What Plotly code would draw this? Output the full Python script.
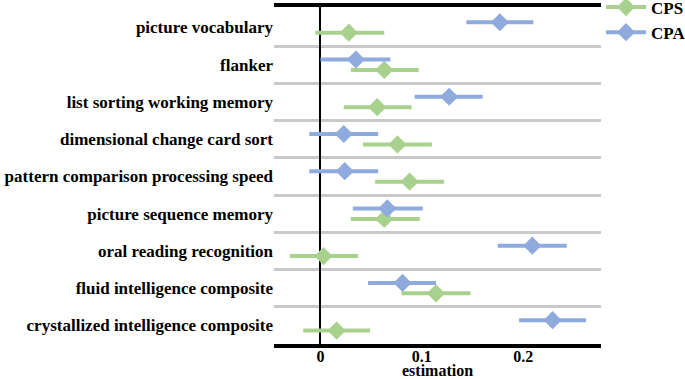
import plotly.graph_objects as go

categories = [
    "picture vocabulary",
    "flanker",
    "list sorting working memory",
    "dimensional change card sort",
    "pattern comparison processing speed",
    "picture sequence memory",
    "oral reading recognition",
    "fluid intelligence composite",
    "crystallized intelligence composite",
]

cps_est = [0.028, 0.063, 0.056, 0.076, 0.088, 0.063, 0.003, 0.114, 0.016]
cps_low = [-0.005, 0.030, 0.023, 0.042, 0.054, 0.030, -0.030, 0.080, -0.017]
cps_high = [0.063, 0.097, 0.090, 0.110, 0.122, 0.098, 0.037, 0.148, 0.049]

cpa_est = [0.177, 0.035, 0.127, 0.023, 0.024, 0.066, 0.209, 0.081, 0.229]
cpa_low = [0.144, 0.000, 0.093, -0.011, -0.011, 0.032, 0.175, 0.047, 0.196]
cpa_high = [0.210, 0.069, 0.160, 0.057, 0.057, 0.101, 0.243, 0.114, 0.262]

x_ticks = [0, 0.1, 0.2]
x_ticktext = ["0", "0.1", "0.2"]
x_title = "estimation"

GREEN = "#A9D18E"
BLUE = "#8FAADC"
FONT = "Liberation Serif"


def interleave(vals):
    out = []
    for v in vals:
        out += [v, None]
    return out


def series(name, est, low, high, offset, color):
    ys = [i + offset for i in range(len(est))]
    plus = [h - e for e, h in zip(est, high)]
    minus = [e - l for e, l in zip(est, low)]
    return go.Scatter(
        name=name,
        x=interleave(est),
        y=interleave(ys),
        mode="lines+markers",
        line=dict(color=color, width=4),
        marker=dict(symbol="diamond", size=14, color=color, line=dict(width=0)),
        error_x=dict(type="data", symmetric=False, array=interleave(plus),
                     arrayminus=interleave(minus), color=color, thickness=4, width=0),
        connectgaps=False,
    )


fig = go.Figure()
fig.add_trace(series("CPS", cps_est, cps_low, cps_high, 0.14, GREEN))
fig.add_trace(series("CPA", cpa_est, cpa_low, cpa_high, -0.14, BLUE))

n = len(categories)
fig.update_layout(
    width=685, height=379,
    margin=dict(l=274, r=84, t=7, b=35, autoexpand=False),
    paper_bgcolor="white", plot_bgcolor="white",
    font=dict(family=FONT, size=17, color="black", weight="bold"),
    showlegend=True,
    legend=dict(x=1.0, xanchor="left", y=1.052, yanchor="top",
                font=dict(family=FONT, size=17, color="black", weight="bold"),
                itemwidth=40, tracegroupgap=0, bgcolor="rgba(0,0,0,0)"),
    xaxis=dict(
        range=[-0.0458, 0.2768], automargin=False,
        tickmode="array", tickvals=x_ticks, ticktext=x_ticktext,
        showgrid=False, ticks="", ticklabelstandoff=-5,
        zeroline=True, zerolinecolor="black", zerolinewidth=2,
        showline=True, linecolor="black", linewidth=4, mirror=True,
        tickfont=dict(family=FONT, size=16, color="black", weight="bold"),
    ),
    yaxis=dict(
        range=[n - 0.5, -0.55], automargin=False,
        tickmode="array", tickvals=list(range(n)), ticktext=categories,
        showgrid=False, zeroline=False, showline=False, ticks="",
        tickfont=dict(family=FONT, size=17, color="black", weight="bold"),
        minor=dict(tickmode="array", tickvals=[i + 0.5 for i in range(n - 1)],
                   showgrid=True, gridcolor="#C9C9C9", gridwidth=3, ticks=""),
    ),
    annotations=[dict(text=x_title, xref="paper", yref="paper", x=0.5, y=0,
                      xanchor="center", yanchor="top", yshift=-16, showarrow=False,
                      font=dict(family=FONT, size=16, color="black", weight="bold"))],
)

fig.write_html("out.html", config={"displayModeBar": False},
               post_script="document.body.style.margin='0px';")
